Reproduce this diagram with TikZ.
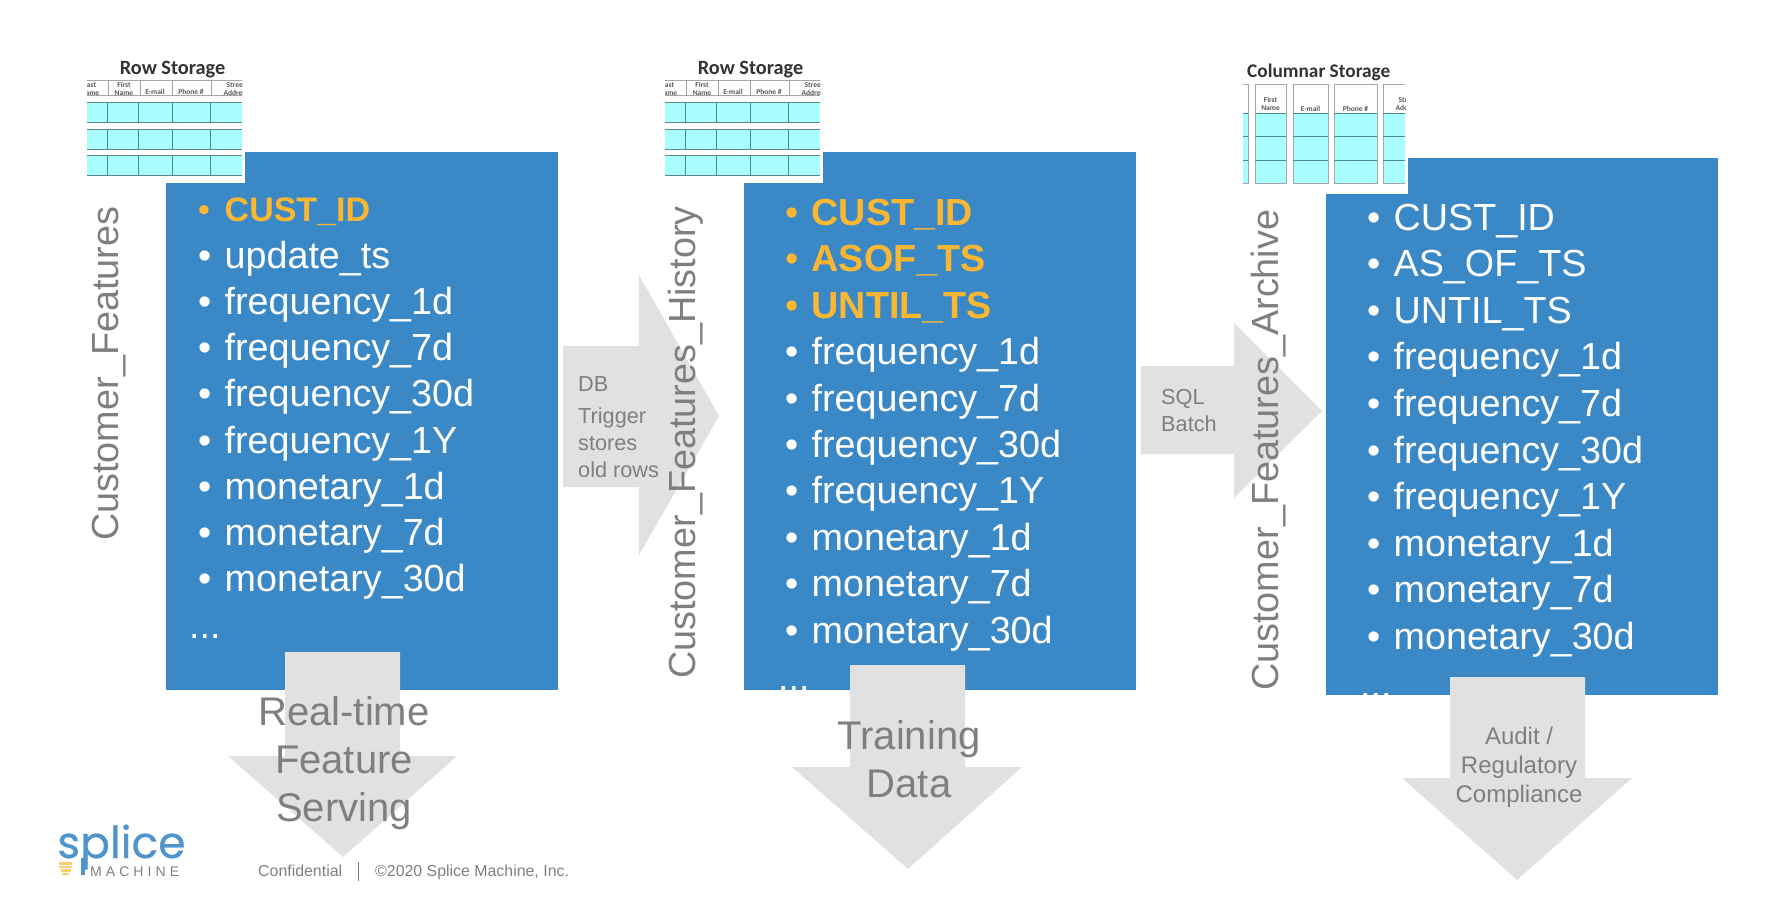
\documentclass[tikz,border=0pt]{standalone}
\usepackage{fontspec}
\setmainfont{Liberation Sans}
\newfontfamily\storefont{Carlito}
\newfontfamily\logofont[FakeBold=0.5]{Poppins}
\definecolor{boxblue}{HTML}{3B88C7}
\definecolor{keygold}{HTML}{FBB731}
\definecolor{arrowgray}{HTML}{E1E1E1}
\definecolor{labelgray}{HTML}{7F7F7F}
\definecolor{cellcyan}{HTML}{A9FFFF}
\definecolor{cellline}{HTML}{4F8A8C}
\definecolor{headline}{HTML}{A6A6A6}
\tikzset{
  px/.style={font=\fontsize{#1}{#1}\selectfont},
  itemtext/.style={px=37.7, text=white, anchor=base west, inner sep=0pt},
  keytext/.style={px=37.7, text=keygold, anchor=base west, inner sep=0pt},
  tablename/.style={anchor=base west, inner sep=0pt, text=labelgray, rotate=90, px=37.8},
  bigarrow/.style={px=40, text=labelgray, align=center, inner sep=0pt, anchor=center},
  smallarrow/.style={px=21.7, text=labelgray, anchor=base west, inner sep=0pt},
  storetitle/.style={font=\storefont\bfseries\fontsize{20.3}{20.3}\selectfont, text=black!80, inner sep=0pt},
  headtext/.style={font=\storefont\bfseries\fontsize{7.5}{8}\selectfont, text=black!65, align=center, inner sep=0pt},
  footertext/.style={px=15.9, text=labelgray, anchor=base west, inner sep=0pt},
}
\newcommand{\bul}{\makebox[26.5pt][l]{\textbullet}}
\begin{document}
\begin{tikzpicture}[x=1pt,y=-1pt]
  \useasboundingbox (0,0) rectangle (1779,912);

  % Blue panels
  \fill[boxblue] (166,152) rectangle (558,689.5);
  \fill[boxblue] (744,152) rectangle (1136,689.5);
  \fill[boxblue] (1326,158) rectangle (1718,695);

  % Row storage tables
  \foreach \dx/\nm in {0/a,578/b} {
    \begin{scope}[xshift=\dx pt]
      \fill[white] (80,60) rectangle (245,183);
      \node[storetitle] (title\nm) at (172.5,70) {Row Storage};
      \begin{scope}
        \clip (87,78) rectangle (242,180);
        \foreach \ya/\yb in {103/123,130/150,156/176} {
          \fill[cellcyan] (87,\ya) rectangle (242,\yb);
          \draw[cellline!70!gray, line width=1pt] (87,\ya) -- (242,\ya) (87,\yb) -- (242,\yb);
          \foreach \x in {107,138,172,210}
            \draw[cellline, line width=1pt] (\x,\ya) -- (\x,\yb);
        }
        \draw[headline, line width=1pt] (87,81) -- (242,81) (87,96) -- (242,96);
        \foreach \x in {108,140,172,211}
          \draw[headline, line width=1pt] (\x,81) -- (\x,96);
        \node[headtext] (hl\nm) at (90,89) {Last\\Name};
        \node[headtext] (hf\nm) at (124,89) {First\\Name};
        \node[headtext] (he\nm) at (155,92) {E-mail};
        \node[headtext] (hp\nm) at (191,92) {Phone \#};
        \node[headtext] (hs\nm) at (236,89) {Street\\Address};
      \end{scope}
    \end{scope}
  }

  % Columnar storage table
  \fill[white] (1238,60) rectangle (1408,194);
  \node[storetitle, anchor=west, font=\storefont\bfseries\fontsize{19.3}{19.3}\selectfont] (titlec) at (1247,72) {Columnar Storage};
  \begin{scope}
    \clip (1243,80) rectangle (1405,190);
    \foreach \xa/\xb in {1230/1248,1255/1286,1293/1328,1334/1377,1383/1420} {
      \fill[cellcyan] (\xa,114) rectangle (\xb,184);
      \draw[headline, line width=1pt] (\xa,85) rectangle (\xb,184);
      \foreach \y in {114,137,161}
        \draw[cellline, line width=1pt] (\xa,\y) -- (\xb,\y);
    }
    \node[headtext] (hfc) at (1270.5,104) {First\\Name};
    \node[headtext] (hec) at (1310.5,109) {E-mail};
    \node[headtext] (hpc) at (1355.5,109) {Phone \#};
    \node[headtext] (hsc) at (1408,104) {Street\\Address};
  \end{scope}

  % First panel
  \node[keytext, px=34] (a0) at (198,221) {\bul\textbf{CUST\_ID}};
  \foreach \txt [count=\i from 1] in {update\_ts,frequency\_1d,frequency\_7d,frequency\_30d,frequency\_1Y,monetary\_1d,monetary\_7d,monetary\_30d}
    \node[itemtext] (a\i) at (198,222+46.2*\i) {\bul\txt};
  \node[itemtext] (adots) at (189,638) {...};

  % Second panel
  \foreach \txt [count=\i from 0] in {CUST\_ID,ASOF\_TS,UNTIL\_TS}
    \node[keytext] (b\i) at (785,225+46.6*\i) {\bul\textbf{\txt}};
  \foreach \txt [count=\i from 3] in {frequency\_1d,frequency\_7d,frequency\_30d,frequency\_1Y,monetary\_1d,monetary\_7d,monetary\_30d}
    \node[itemtext] (b\i) at (785,225.5+46.4*\i) {\bul\txt};
  \node[itemtext] (bdots) at (778,690.5) {...};

  % Third panel
  \foreach \txt [count=\i from 0] in {CUST\_ID,AS\_OF\_TS,UNTIL\_TS,frequency\_1d,frequency\_7d,frequency\_30d,frequency\_1Y,monetary\_1d,monetary\_7d,monetary\_30d}
    \node[itemtext] (c\i) at (1367,230+46.6*\i) {\bul\txt};
  \node[itemtext] (cdots) at (1360,697) {...};

  % Arrows
  \fill[arrowgray] (563,346) -- (639,346) -- (639,275) -- (719,416) -- (639,555) -- (639,487) -- (563,487) -- cycle;
  \fill[arrowgray] (1141,366) -- (1234,366) -- (1234,323) -- (1322,411) -- (1234,498) -- (1234,454) -- (1141,454) -- cycle;
  \fill[arrowgray] (285,652) -- (400,652) -- (400,756) -- (457,756) -- (343,857) -- (228,756) -- (285,756) -- cycle;
  \fill[arrowgray] (850,665) -- (965,665) -- (965,767) -- (1022,767) -- (908,869) -- (792,767) -- (850,767) -- cycle;
  \fill[arrowgray] (1450,677) -- (1585,677) -- (1585,778) -- (1632,778) -- (1517,880) -- (1402,778) -- (1450,778) -- cycle;

  % Table names
  \node[tablename] (nameA) at (118,541) {Customer\_Features};
  \node[tablename] (nameB) at (695,679) {Customer\_Features\_History};
  \node[tablename] (nameC) at (1278,691) {Customer\_Features\_Archive};

  % Arrow labels
  \node[smallarrow] (dbA) at (578,391) {DB};
  \node[smallarrow] (dbB) at (578,423) {Trigger};
  \node[smallarrow] (dbC) at (578,450) {stores};
  \node[smallarrow] (dbD) at (578,477) {old rows};
  \node[smallarrow] (sqlA) at (1161,404) {SQL};
  \node[smallarrow] (sqlB) at (1161,431) {Batch};
  \node[bigarrow] (serving) at (344,763) {Real-time\\[8pt]Feature\\[8pt]Serving};
  \node[bigarrow] (training) at (909,759) {Training\\[8pt]Data};
  \node[bigarrow, px=24, text=labelgray] (audit) at (1519,767) {Audit /\\[5pt]Regulatory\\[5pt]Compliance};

  % Logo and footer
  \node[inner sep=0pt, anchor=base west, text=boxblue!90!white, font=\logofont\fontsize{44}{44}\selectfont] (logo) at (57,858) {splice};
  \fill[boxblue!90!white] (80.5,858) rectangle (85,875);
  \foreach \y/\w in {862/6.5,865.5/6.5,869/5,872.5/3.5}
    \fill[keygold!70!white] (65.5-\w,\y) rectangle (65.5+\w,\y+2.8);
  \node[inner sep=0pt, anchor=base west, text=labelgray, font=\fontsize{14}{14}\selectfont\addfontfeature{LetterSpace=29}] (machine) at (90,876) {MACHINE};
  \node[footertext] (conf) at (258,876) {Confidential};
  \node[footertext] (copy) at (375,876) {©2020 Splice Machine, Inc.};
  \draw[labelgray, line width=1pt] (358,862) -- (358,881);
\end{tikzpicture}
\end{document}
